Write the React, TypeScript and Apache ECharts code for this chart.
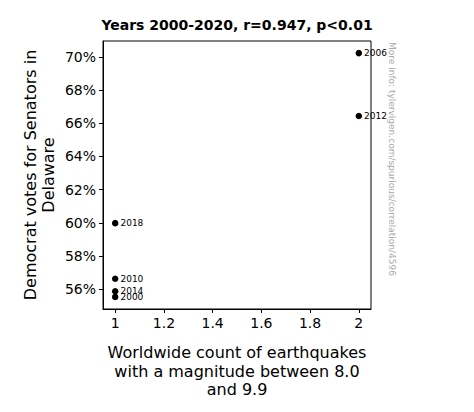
import React, { useEffect, useRef } from "react";
import * as echarts from "echarts";

const years = ["2000", "2006", "2010", "2012", "2014", "2018"];
const quakes = [1, 2, 1, 2, 1, 1];
const votes = [55.54, 70.22, 56.63, 66.43, 55.88, 59.98];
const xTicks = [1, 1.2, 1.4, 1.6, 1.8, 2];
const yTicks = [56, 58, 60, 62, 64, 66, 68, 70];

const titleText = "Years 2000-2020, r=0.947, p<0.01";
const yLabel = "Democrat votes for Senators in\nDelaware";
const xLabel = "Worldwide count of earthquakes\nwith a magnitude between 8.0\nand 9.9";
const watermark = "More info: tylervigen.com/spurious/correlation/4596";

const FONT = "'DejaVu Sans', sans-serif";

export default function App() {
  const ref = useRef<HTMLDivElement>(null);
  useEffect(() => {
    if (!ref.current) return;
    const chart = echarts.init(ref.current, null, { renderer: "svg" });
    const data = years.map((y, i) => [quakes[i], votes[i], y]);
    chart.setOption({
      animation: false,
      backgroundColor: "#ffffff",
      textStyle: { fontFamily: FONT },
      grid: {
        left: 103,
        right: 103,
        top: 41,
        bottom: 103,
        show: true,
        borderColor: "#000",
        borderWidth: 1,
        backgroundColor: "transparent",
      },
      xAxis: {
        type: "value",
        min: 0.95,
        max: 2.05,
        splitLine: { show: false },
        axisLine: { show: true, lineStyle: { color: "#000", width: 1 } },
        axisTick: { show: true, length: 4, customValues: xTicks, lineStyle: { color: "#000" } },
        axisLabel: {
          customValues: xTicks,
          color: "#000",
          fontSize: 14,
          fontFamily: FONT,
          margin: 7,
          formatter: (v: number) => String(Math.round(v * 10) / 10),
        },
      },
      yAxis: {
        type: "value",
        min: 54.81,
        max: 70.95,
        splitLine: { show: false },
        axisLine: { show: true, lineStyle: { color: "#000", width: 1 } },
        axisTick: { show: true, length: 4, customValues: yTicks, lineStyle: { color: "#000" } },
        axisLabel: {
          customValues: yTicks,
          color: "#000",
          fontSize: 14,
          fontFamily: FONT,
          margin: 7,
          formatter: (v: number) => Math.round(v) + "%",
        },
      },
      series: [
        {
          type: "scatter",
          data,
          symbolSize: 6.5,
          itemStyle: { color: "#000", opacity: 1 },
          label: {
            show: true,
            position: "right",
            distance: 2,
            formatter: (p: any) => p.value[2],
            fontSize: 9,
            fontFamily: FONT,
            color: "#000",
          },
        },
      ],
      graphic: [
        {
          type: "text",
          x: 237,
          y: 25,
          style: {
            text: titleText,
            align: "center",
            verticalAlign: "middle",
            font: "bold 14px 'DejaVu Sans', sans-serif",
            fill: "#000",
          },
        },
        {
          type: "text",
          x: 39,
          y: 175,
          rotation: Math.PI / 2,
          style: {
            text: yLabel,
            align: "center",
            verticalAlign: "middle",
            font: "16px 'DejaVu Sans', sans-serif",
            lineHeight: 18,
            fill: "#000",
          },
        },
        {
          type: "text",
          x: 237,
          y: 371,
          style: {
            text: xLabel,
            align: "center",
            verticalAlign: "middle",
            font: "16px 'DejaVu Sans', sans-serif",
            lineHeight: 18.7,
            fill: "#000",
          },
        },
        {
          type: "text",
          x: 392,
          y: 42,
          rotation: -Math.PI / 2,
          style: {
            text: watermark,
            align: "left",
            verticalAlign: "middle",
            font: "9px 'DejaVu Sans', sans-serif",
            fill: "#aaaaaa",
          },
        },
      ],
    });
    return () => chart.dispose();
  }, []);
  return (
    <div
      ref={ref}
      style={{ position: "absolute", left: 0, top: 0, width: 474, height: 412 }}
    />
  );
}
